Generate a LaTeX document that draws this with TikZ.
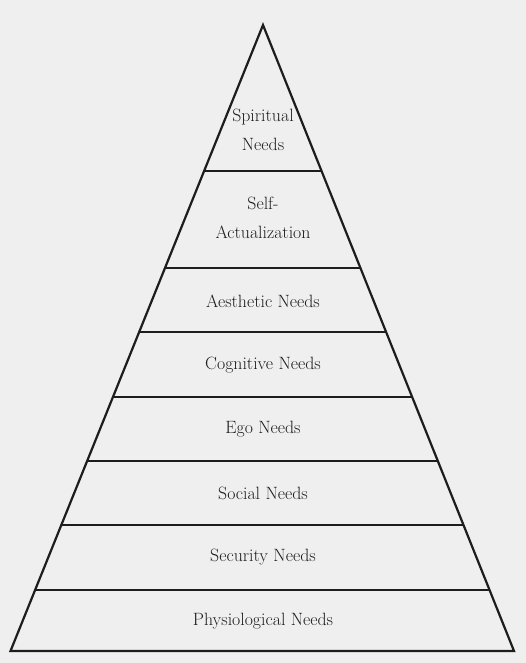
\documentclass[tikz,border=0pt]{standalone}
\usetikzlibrary{calc}
\definecolor{bg}{HTML}{EEEFEE}
\definecolor{ink}{HTML}{1E1C1C}
\begin{document}
\begin{tikzpicture}[x=1pt,y=-1pt,
  edge/.style={draw=ink,line width=2.2pt,line join=miter},
  tier/.style={draw=ink,line width=2.2pt},
  lbl/.style={font=\fontsize{17.8}{29}\selectfont,text=ink,align=center,inner sep=0pt}]
\fill[bg] (0,0) rectangle (526,663);
\useasboundingbox (0,0) rectangle (526,663);
\coordinate (apex) at (263,25);
\coordinate (bl) at (10.5,651);
\coordinate (br) at (514,651);
\draw[edge] (bl) -- (apex) -- (br) -- cycle;
\foreach \y [count=\i] in {171,268,332,397,461,525,590}{
  \pgfmathsetmacro{\t}{(\y-25)/626}
  \coordinate (L\i) at ($(apex)!\t!(bl)$);
  \coordinate (R\i) at ($(apex)!\t!(br)$);
  \draw[tier] (L\i) -- (R\i);
}
\node[lbl] (spiritual) at (263,130) {Spiritual\\Needs};
\node[lbl] (self) at (263,218) {Self-\\Actualization};
\node[lbl] (aesthetic) at (263,301) {Aesthetic Needs};
\node[lbl] (cognitive) at (263,365) {Cognitive Needs};
\node[lbl] (ego) at (263,429) {Ego Needs};
\node[lbl] (social) at (263,493) {Social Needs};
\node[lbl] (security) at (263,557) {Security Needs};
\node[lbl] (physio) at (263,621) {Physiological Needs};
\end{tikzpicture}
\end{document}
